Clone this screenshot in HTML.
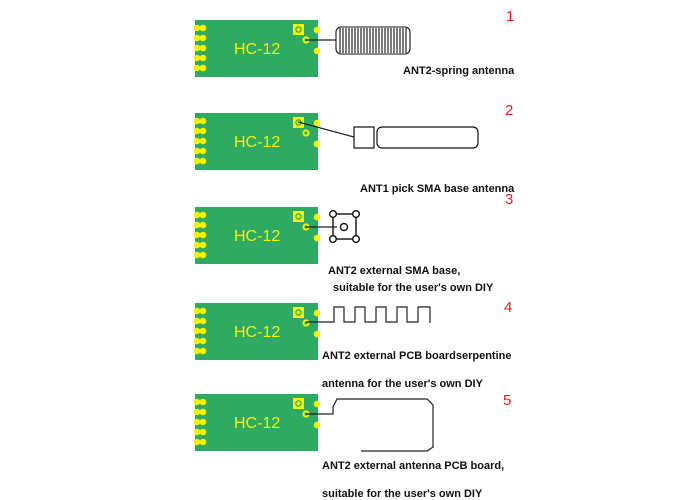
<!DOCTYPE html>
<html><head><meta charset="utf-8"><style>
html,body{margin:0;padding:0;background:#fff;width:700px;height:500px;overflow:hidden}
text{font-family:"Liberation Sans",sans-serif}
.lb{font-weight:bold;font-size:11px;fill:#111}
.num{fill:#e02020;font-size:15px}
.hc{fill:#f4f400;font-size:16px}
</style></head><body>
<svg width="700" height="500" xmlns="http://www.w3.org/2000/svg">
<defs>
<g id="mod">
<rect x="195" y="0" width="123" height="57" fill="#2eaa63"/>
<g fill="#f4f400">
<circle cx="197" cy="8" r="3.3"/><circle cx="203" cy="8" r="3.3"/>
<circle cx="197" cy="18" r="3.3"/><circle cx="203" cy="18" r="3.3"/>
<circle cx="197" cy="28" r="3.3"/><circle cx="203" cy="28" r="3.3"/>
<circle cx="197" cy="38" r="3.3"/><circle cx="203" cy="38" r="3.3"/>
<circle cx="197" cy="48" r="3.3"/><circle cx="203" cy="48" r="3.3"/>
<circle cx="317" cy="10" r="3.3"/><circle cx="306" cy="20" r="3.6"/><circle cx="317" cy="31" r="3.3"/>
<rect x="293" y="4" width="11" height="11"/>
</g>
<circle cx="298.5" cy="9.5" r="2.6" fill="none" stroke="#2eaa63" stroke-width="1.3"/>
<circle cx="306" cy="20" r="1.6" fill="#2eaa63"/>
<text x="234" y="34" class="hc">HC-12</text>
</g>
</defs>

<use href="#mod" y="20"/>
<use href="#mod" y="113"/>
<use href="#mod" y="207"/>
<use href="#mod" y="303"/>
<use href="#mod" y="394"/>

<!-- 1 spring -->
<line x1="306" y1="40" x2="336" y2="40" stroke="#222" stroke-width="1.2"/>
<g fill="none" stroke="#111" stroke-width="1.1">
<rect x="336" y="27" width="74" height="27" rx="5"/>
<path d="M340 28v25M343 28v25M346 28v25M349 28v25M352 28v25M355 28v25M358 28v25M361 28v25M364 28v25M367 28v25M370 28v25M373 28v25M376 28v25M379 28v25M382 28v25M385 28v25M388 28v25M391 28v25M394 28v25M397 28v25M400 28v25M403 28v25M406 28v25"/>
</g>
<text x="1" y="0" class="num"><tspan x="506" y="21">1</tspan></text>
<text x="403" y="74" class="lb">ANT2-spring antenna</text>

<!-- 2 SMA -->
<line x1="298" y1="122" x2="354" y2="137" stroke="#222" stroke-width="1.2"/>
<rect x="354" y="127" width="20" height="21" fill="none" stroke="#111" stroke-width="1.2"/>
<rect x="377" y="127" width="101" height="21" rx="5" fill="none" stroke="#111" stroke-width="1.2"/>
<text x="505" y="115" class="num">2</text>
<text x="360" y="192" class="lb">ANT1 pick SMA base antenna</text>

<!-- 3 SMA base -->
<line x1="306" y1="227" x2="337" y2="227" stroke="#222" stroke-width="1.2"/>
<g fill="#fff" stroke="#111" stroke-width="1.4">
<rect x="333" y="214" width="23" height="25" fill="none"/>
<circle cx="333" cy="214" r="3.3"/><circle cx="356" cy="214" r="3.3"/>
<circle cx="333" cy="239" r="3.3"/><circle cx="356" cy="239" r="3.3"/>
<circle cx="344" cy="227" r="3.5"/>
</g>
<text x="505" y="204" class="num">3</text>
<text x="328" y="274" class="lb">ANT2 external SMA base,</text>
<text x="333" y="291" class="lb">suitable for the user's own DIY</text>

<!-- 4 serpentine -->
<path d="M306 322H334V307H344V322H355V307H365V322H376V307H386V322H397V307H407V322H418V307H430V323" fill="none" stroke="#222" stroke-width="1.2"/>
<text x="504" y="312" class="num">4</text>
<text x="322" y="359" class="lb">ANT2 external PCB boardserpentine</text>
<text x="322" y="387" class="lb">antenna for the user's own DIY</text>

<!-- 5 PCB -->
<path d="M306 414H333V407L337 399H427L433 405V447L427 451H361" fill="none" stroke="#222" stroke-width="1.2"/>
<text x="503" y="405" class="num">5</text>
<text x="322" y="469" class="lb">ANT2 external antenna PCB board,</text>
<text x="322" y="497" class="lb">suitable for the user's own DIY</text>
</svg>
</body></html>
